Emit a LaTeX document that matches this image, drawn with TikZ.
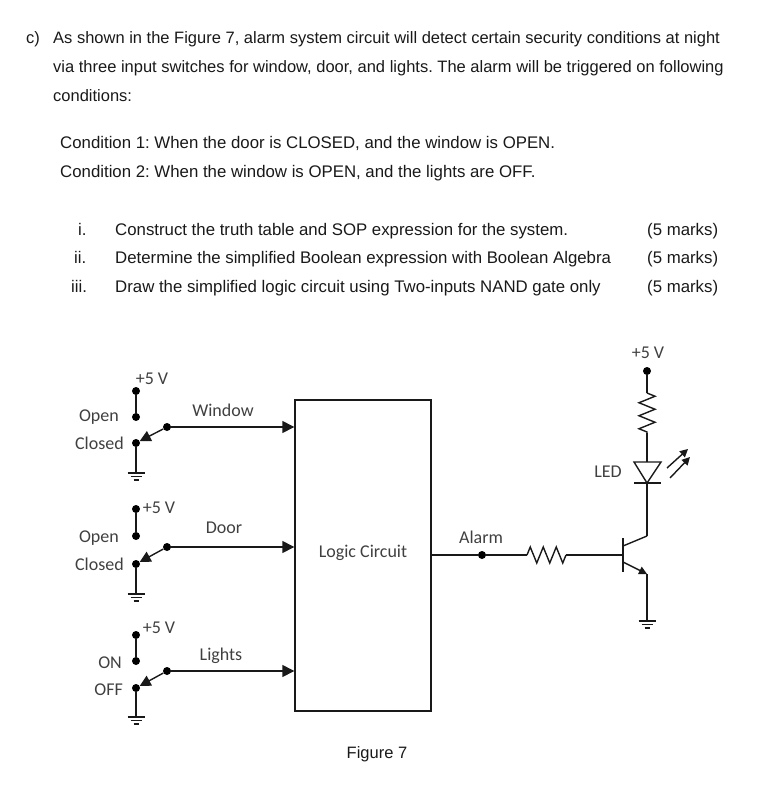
\documentclass[tikz,border=0pt]{standalone}
\usepackage{fontspec}
\setmainfont{Liberation Sans}
\newfontfamily\labelfont{Carlito}
\usetikzlibrary{arrows.meta,decorations.pathmorphing}
\frenchspacing

\colorlet{wire}{black!90}
\colorlet{label text}{black!75}
\tikzset{
  wiring/.style={draw=wire, line width=1.4pt},
  dot/.style={circle, fill=black, minimum size=8pt, inner sep=0pt},
  tag/.style={text=label text, font=\labelfont\fontsize{18}{20}\selectfont, inner sep=0pt},
  para/.style={anchor=base west, inner sep=0pt, text=black!90, font=\fontsize{16.5}{18}\selectfont},
  item/.style={para, font=\fontsize{16.8}{18}\selectfont},
  resistor/.style={wiring, decorate, decoration={zigzag, amplitude=8pt, segment length=13pt}},
  gnd/.pic={
    \draw[wiring] (-8.5,0) -- (8.5,0);
    \draw[wiring] (-5.5,3.5) -- (5.5,3.5);
    \draw[wiring] (-2.5,7) -- (2.5,7);
  }
}

\begin{document}
\begin{tikzpicture}[x=1pt, y=-1pt]
  \useasboundingbox (0,0) rectangle (773,810);

  % question text
  \foreach \pos/\name/\txt in {
    {(26,44)/c/c)},
    {(53,44)/la/{As shown in the Figure 7, alarm system circuit will detect certain security conditions at night}},
    {(53,73)/lb/{via three input switches for window, door, and lights. The alarm will be triggered on following}},
    {(53,102)/lc/{conditions:}}} {
    \node[para] (\name) at \pos {\txt};
  }
  \foreach \pos/\name/\txt in {
    {(60,149)/ca/{Condition 1: When the door is CLOSED, and the window is OPEN.}},
    {(60,178)/cb/{Condition 2: When the window is OPEN, and the lights are OFF.}},
    {(78,235)/ia/{i.}}, {(74,263)/ib/{ii.}}, {(71,292)/ic/{iii.}},
    {(115,235)/ta/{Construct the truth table and SOP expression for the system.}},
    {(115,263)/tb/{Determine the simplified Boolean expression with Boolean Algebra}},
    {(115,292)/tc/{Draw the simplified logic circuit using Two-inputs NAND gate only}},
    {(647,235)/ma/{(5 marks)}}, {(647,263)/mb/{(5 marks)}}, {(647,292)/mc/{(5 marks)}}} {
    \node[item] (\name) at \pos {\txt};
  }

  % logic block
  \node[draw=wire, line width=1.4pt, minimum width=136pt, minimum height=311pt, inner sep=0pt] (logic) at (363,555.5) {};
  \node[tag] (logiclabel) at (363,552.5) {Logic Circuit};
  \node[para, anchor=center] (figure) at (377,754) {Figure 7};

  % input switches
  \foreach \n/\top/\open/\closed/\wiper/\ground/\vx/\vy/\ox/\oy/\cx/\cy/\lopen/\lclosed/\sx/\sy/\signal in {
    a/391/417/443/427/473/152/379/119/421.5/124/449.5/Open/Closed/223/410/Window,
    b/509/536/564/547/594/159/507.5/119/542.5/124/570.5/Open/Closed/224/527.5/Door,
    c/635/661/688/671/717/159/627.5/122/668.5/123/695.5/ON/OFF/221/656/Lights} {
    \node[dot] (top\n) at (136,\top) {};
    \node[dot] (open\n) at (136,\open) {};
    \node[dot] (closed\n) at (136,\closed) {};
    \node[dot] (wiper\n) at (167,\wiper) {};
    \coordinate (gnd\n) at (136,\ground);
    \coordinate (in\n) at (logic.west |- wiper\n);
    \draw[wiring] (top\n) -- (open\n);
    \draw[wiring] (closed\n) -- (gnd\n);
    \draw[wiring, -{Triangle[length=11pt,width=11pt]}] (wiper\n) -- (closed\n);
    \draw[wiring, -{Triangle[length=12pt,width=12pt]}] (wiper\n) -- (in\n);
    \pic at (gnd\n) {gnd};
    \node[tag] (volt\n) at (\vx,\vy) {+5 V};
    \node[tag, anchor=base east] (lo\n) at (\ox,\oy) {\lopen};
    \node[tag, anchor=base east] (lc\n) at (\cx,\cy) {\lclosed};
    \node[tag] (sig\n) at (\sx,\sy) {\signal};
  }

  % output stage
  \node[dot] (alarmdot) at (482,555) {};
  \node[tag] (alarmlabel) at (481,537) {Alarm};
  \coordinate (alarmout) at (logic.east |- alarmdot);
  \coordinate (base) at (623,555);
  \draw[wiring] (alarmout) -- (alarmdot);
  \draw[wiring] (alarmdot) -- (527,555);
  \draw[resistor] (527,555) -- (566,555);
  \draw[wiring] (566,555) -- (base);
  \draw[wiring] (base |- 0,538) -- (base |- 0,572);
  \coordinate (collector) at (647,536);
  \coordinate (emitter) at (647,574);
  \coordinate (gndq) at (647,621);
  \draw[wiring] (623,546) -- (collector);
  \draw[wiring, -{Triangle[length=8pt,width=8pt]}] (623,562) -- (emitter);
  \draw[wiring] (emitter) -- (gndq);
  \pic at (gndq) {gnd};

  \node[dot] (supply) at (647,371) {};
  \node[tag] (supplylabel) at (648,352.5) {+5 V};
  \coordinate (ledtop) at (647,462);
  \coordinate (ledtip) at (647,483);
  \draw[wiring] (supply) -- (647,393);
  \draw[resistor] (647,393) -- (647,433);
  \draw[wiring] (647,433) -- (ledtop);
  \draw[wiring] (634,462) -- (661,462) -- (ledtip) -- cycle;
  \draw[wiring] (634,483) -- (661,483);
  \draw[wiring] (ledtip) -- (collector);
  \node[tag] (ledlabel) at (608,471.5) {LED};
  \draw[wiring, -{Triangle[length=8pt,width=8pt]}] (667,468) -- (688,449);
  \draw[wiring, -{Triangle[length=8pt,width=8pt]}] (670,478) -- (690,457);

\end{tikzpicture}
\end{document}
